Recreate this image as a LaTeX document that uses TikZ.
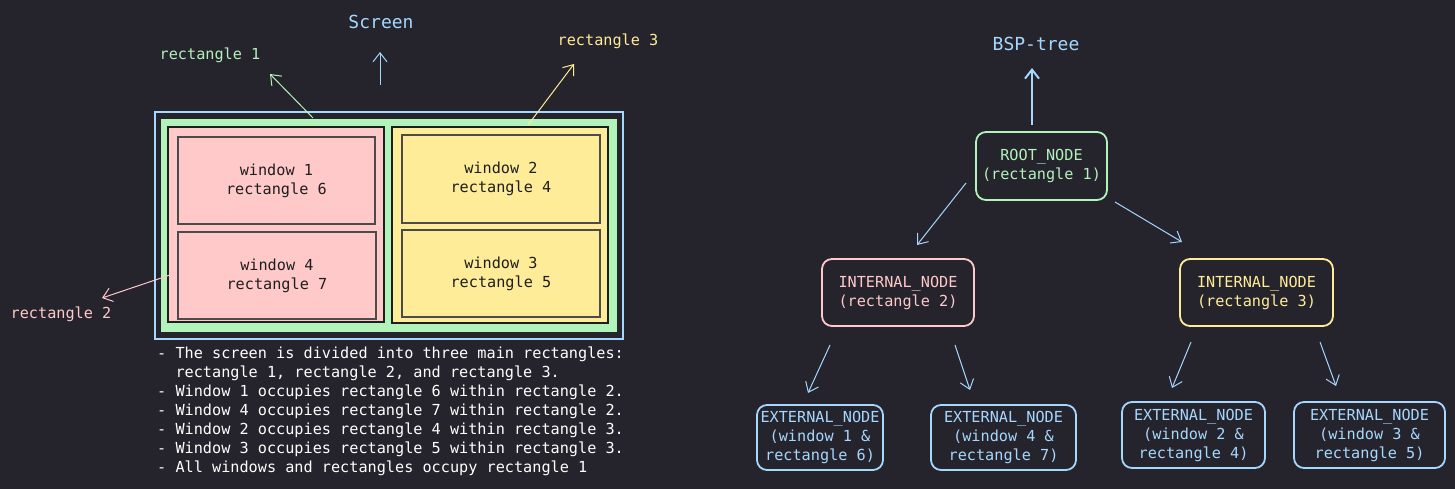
\documentclass[tikz,border=0pt]{standalone}
\usepackage{fontspec}
\setmainfont{DejaVu Sans Mono}
\usetikzlibrary{arrows.meta}
\definecolor{bg}{HTML}{25232B}
\definecolor{cb}{HTML}{A5D8FF}
\definecolor{cg}{HTML}{B2F2BB}
\definecolor{cp}{HTML}{FFC9C9}
\definecolor{cy}{HTML}{FFEC99}
\definecolor{ink}{HTML}{1E1E1E}
\begin{document}
\begin{tikzpicture}[x=1pt,y=-1pt,font=\fontsize{15.2}{19}\selectfont,
  win/.style={draw=ink!80!white,line width=1.8pt,text=ink,align=center,anchor=north west,inner sep=0},
  tn/.style={rounded corners=10pt,line width=1.8pt,align=center,inner sep=0},
  arr/.style={line width=1pt,-{Straight Barb[length=9pt,width=14pt]}},
  lbl/.style={inner sep=0},
  ttl/.style={inner sep=0,text=cb,font=\fontsize{18}{22}\selectfont}]
\useasboundingbox[fill=bg] (0,0) rectangle (1455,489);
% screen
\draw[cb,line width=1.2pt] (155,112) rectangle (623,339);
\fill[cg] (161,119) rectangle (617,332);
\draw[fill=cp,draw=ink,line width=1.8pt] (168,127) rectangle (384,322);
\draw[fill=cy,draw=ink,line width=1.8pt] (392,127) rectangle (608,323);
\node[win,fill=cp,minimum width=197,minimum height=87] (w1) at (177,136) {window 1\\rectangle 6};
\node[win,fill=cp,minimum width=198,minimum height=87] (w4) at (177,231) {window 4\\rectangle 7};
\node[win,fill=cy,minimum width=198,minimum height=88] (w2) at (401,134) {window 2\\rectangle 4};
\node[win,fill=cy,minimum width=198,minimum height=87] (w3) at (401,229) {window 3\\rectangle 5};
\node[ttl] (scr) at (381,22) {Screen};
\node[lbl,text=cg] (r1) at (210,55) {rectangle 1};
\node[lbl,text=cy] (r3) at (608,41) {rectangle 3};
\node[lbl,text=cp] (r2) at (61,314) {rectangle 2};
\coordinate (s0) at (380,85); \coordinate (s1) at (380,52);
\coordinate (a0) at (313,118); \coordinate (a1) at (270,74);
\coordinate (b0) at (528,125); \coordinate (b1) at (574,64);
\coordinate (c0) at (170,275); \coordinate (c1) at (102,298);
\draw[arr,cb] (s0) -- (s1);
\draw[arr,cg] (a0) -- (a1);
\draw[arr,cy] (b0) -- (b1);
\draw[arr,cp] (c0) -- (c1);
\node[lbl,anchor=north west,align=left,text=white,font=\fontsize{15.2}{18.9}\selectfont] (txt) at (157,347) {- The screen is divided into three main rectangles:\\
\ \ rectangle 1, rectangle 2, and rectangle 3.\\
- Window 1 occupies rectangle 6 within rectangle 2.\\
- Window 4 occupies rectangle 7 within rectangle 2.\\
- Window 2 occupies rectangle 4 within rectangle 3.\\
- Window 3 occupies rectangle 5 within rectangle 3.\\
- All windows and rectangles occupy rectangle 1};
% tree
\node[ttl] (bsp) at (1036,44) {BSP-tree};
\node[tn,draw=cg,text=cg,minimum width=131,minimum height=68] (root) at (1041.5,166) {ROOT\_NODE\\(rectangle 1)};
\node[tn,draw=cp,text=cp,minimum width=152,minimum height=67] (il) at (898,292.5) {INTERNAL\_NODE\\(rectangle 2)};
\node[tn,draw=cy,text=cy,minimum width=153,minimum height=67] (ir) at (1256.5,292.5) {INTERNAL\_NODE\\(rectangle 3)};
\node[tn,draw=cb,text=cb,minimum width=126,minimum height=65] (e1) at (820,437.5) {EXTERNAL\_NODE\\(window 1 \&\\rectangle 6)};
\node[tn,draw=cb,text=cb,minimum width=145,minimum height=65] (e2) at (1003.5,437.5) {EXTERNAL\_NODE\\(window 4 \&\\rectangle 7)};
\node[tn,draw=cb,text=cb,minimum width=143,minimum height=66] (e3) at (1193.5,435) {EXTERNAL\_NODE\\(window 2 \&\\rectangle 4)};
\node[tn,draw=cb,text=cb,minimum width=151,minimum height=66] (e4) at (1369.5,435) {EXTERNAL\_NODE\\(window 3 \&\\rectangle 5)};
\coordinate (t0) at (1032,125); \coordinate (t1) at (1032,68);
\draw[arr,cb,line width=2pt] (t0) -- (t1);
\coordinate (p0) at (966,183); \coordinate (p1) at (917,245);
\coordinate (q0) at (1115,202); \coordinate (q1) at (1182,242);
\coordinate (l0) at (830,345); \coordinate (l1) at (808,393);
\coordinate (m0) at (955,345); \coordinate (m1) at (970,390);
\coordinate (n0) at (1191,342); \coordinate (n1) at (1172,388);
\coordinate (o0) at (1320,342); \coordinate (o1) at (1336,386);
\foreach \u/\v in {p0/p1,q0/q1,l0/l1,m0/m1,n0/n1,o0/o1} \draw[arr,cb] (\u) -- (\v);
\end{tikzpicture}
\end{document}
